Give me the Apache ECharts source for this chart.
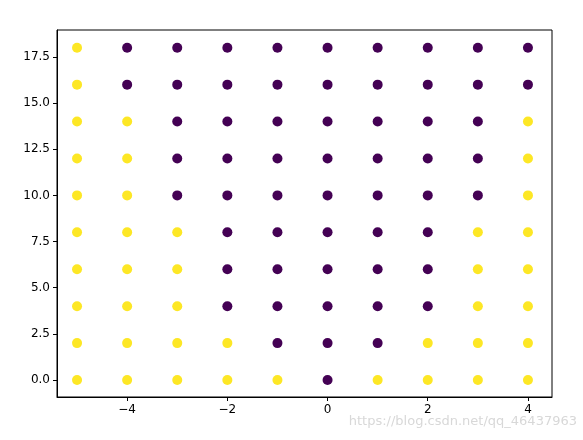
<!DOCTYPE html>
<html><head><meta charset="utf-8">
<script src="https://cdn.jsdelivr.net/npm/echarts@6/dist/echarts.min.js"></script>
<style>body{margin:0;background:#fff}#c{width:583px;height:440px}</style></head>
<body><div id="c"></div>
<script>
const xs = [-5,-4,-3,-2,-1,0,1,2,3,4];
const ys = [18,16,14,12,10,8,6,4,2,0];
// 1 = purple, 0 = yellow; rows follow ys, columns follow xs
const classes = [
 [0,1,1,1,1,1,1,1,1,1],
 [0,1,1,1,1,1,1,1,1,1],
 [0,0,1,1,1,1,1,1,1,0],
 [0,0,1,1,1,1,1,1,1,0],
 [0,0,1,1,1,1,1,1,1,0],
 [0,0,0,1,1,1,1,1,0,0],
 [0,0,0,1,1,1,1,1,0,0],
 [0,0,0,1,1,1,1,1,0,0],
 [0,0,0,0,1,1,1,0,0,0],
 [0,0,0,0,0,1,0,0,0,0]
];
const xTicks = [-4,-2,0,2,4];
const yTicks = [0,2.5,5,7.5,10,12.5,15,17.5];
const yellow=[],purple=[];
ys.forEach((y,i)=>xs.forEach((x,j)=>(classes[i][j]?purple:yellow).push([x,y])));
const font={fontFamily:'DejaVu Sans',fontSize:12,color:'#000'};
const ax=(min,max,ticks,fmt)=>({min,max,splitLine:{show:false},
 axisLine:{show:true,onZero:false,lineStyle:{color:'#000',width:1}},
 axisTick:{show:true,length:4,lineStyle:{color:'#000'},customValues:ticks},
 axisLabel:Object.assign({customValues:ticks,formatter:fmt,margin:7},font)});
const chart=echarts.init(document.getElementById('c'));
chart.setOption({animation:false,
 grid:{left:57,right:31,top:30,bottom:43},
 xAxis:Object.assign(ax(-5.4,4.48,xTicks,v=>String(v).replace('-','\u2212')),{type:'value'}),
 yAxis:Object.assign(ax(-0.92,18.96,yTicks,v=>v.toFixed(1)),{type:'value'}),
 graphic:[
  {type:'rect',shape:{x:57,y:30,width:495,height:367},style:{fill:'none',stroke:'#000',lineWidth:1},silent:true,z:10},
  {type:'text',right:6,bottom:12,style:{text:'https://blog.csdn.net/qq_46437963',fill:'#d8d8d8',font:'13px DejaVu Sans'}}
 ],
 series:[
  {type:'scatter',data:yellow,symbolSize:10,itemStyle:{color:'#fde725',opacity:1}},
  {type:'scatter',data:purple,symbolSize:10,itemStyle:{color:'#440154',opacity:1}}
 ]});
</script></body></html>
